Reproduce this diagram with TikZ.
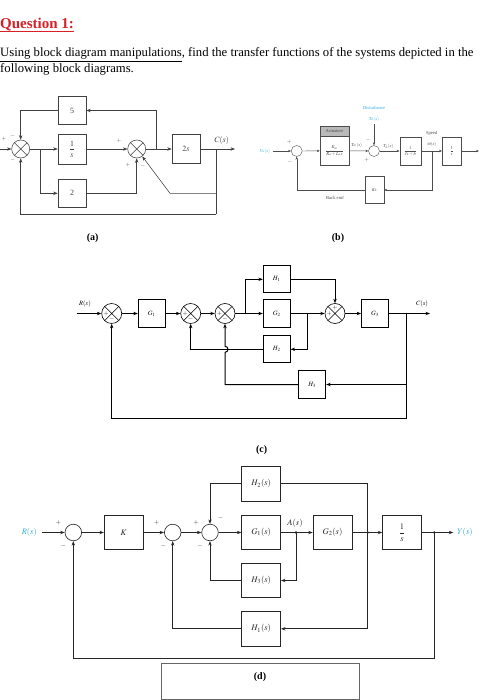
\documentclass[tikz,border=0pt]{standalone}
\usepackage{mathptmx}
\usepackage{fontspec}
\setmainfont{Liberation Serif}
\usepackage{tikz}
\usetikzlibrary{arrows.meta}
\definecolor{qred}{RGB}{214,32,38}
\definecolor{sigcyan}{RGB}{45,170,215}

\begin{document}
\begin{tikzpicture}[x=1pt, y=-1pt,
        blk/.style={draw, inner sep=0pt, minimum width=28pt, minimum height=28pt},
        sumx/.style={draw, circle, inner sep=0pt, minimum size=18pt,
            path picture={\draw (path picture bounding box.north west) -- (path picture bounding box.south east)
                (path picture bounding box.north east) -- (path picture bounding box.south west);}},
        sumo/.style={draw, circle, inner sep=0pt, minimum size=11pt},
        sig/.style={-{Stealth[length=4.5pt,width=3.4pt]}},
        sgn/.style={inner sep=0pt, font=\fontsize{6}{6}\selectfont},
        lbl/.style={inner sep=0pt, font=\bfseries\fontsize{10}{12}\selectfont}]
    \useasboundingbox (0,0) rectangle (481,700);

    % question text
    \node[anchor=base west, inner sep=0pt, text=qred, font=\bfseries\fontsize{15}{17}\selectfont] (title) at (0,29) {Question 1:};
    \draw[qred, line width=0.9pt] ([yshift=-2.2pt]title.base west) -- ([yshift=-2.2pt]title.base east);
    \node[anchor=base west, inner sep=0pt, font=\fontsize{12.7}{15}\selectfont] (task) at (0,57) {\underline{Using block diagram manipulations}, find the transfer functions of the systems depicted in the};
    \node[anchor=base west, inner sep=0pt, font=\fontsize{12.7}{15}\selectfont] (task2) at (0,73) {following block diagrams.};

    % (a)
    \begin{scope}[color=black!75, line width=0.55pt, every node/.append style={font=\fontsize{8}{9}\selectfont}]
        \node[sumx] (as1) at (20.7,149) {};
        \node[blk] (a5) at (72,110.5) {5};
        \node[blk, minimum height=30pt] (ainv) at (72,149) {$\displaystyle\frac{1}{s}$};
        \node[blk] (a2) at (72,193.3) {2};
        \node[sumx] (as2) at (136.7,149) {};
        \node[blk, minimum height=29pt] (a2s) at (186,149) {$2s$};
        \coordinate (ain) at (0,149);
        \coordinate (aout) at (235,149);
        \draw[sig] (ain) -- (as1);
        \draw[sig] (as1) -- (ainv);
        \draw[sig] (ainv) -- (as2);
        \draw[sig] (as2) -- (a2s);
        \draw[sig] (a2s) -- (aout);
        \draw[sig] (156.7,149) |- (a5);
        \draw[sig] (a5) -| (as1);
        \draw[sig] (40.7,149) |- (a2);
        \draw[sig] (a2) -| (as2);
        \draw (216,149) -- (216,214);
        \draw[sig] (216,193.3) -- (170,193.3) -- (as2);
        \draw[sig] (216,214) -| (as1);
        \foreach \x/\y/\s [count=\i] in {4/139.5/+, 12.7/135.7/-, 12.7/160/-, 119/140.7/+, 128/165/+, 143/166/-}
            \node[sgn] (asg\i) at (\x,\y) {$\s$};
        \node (aC) at (221.7,140.7) {$C(s)$};
    \end{scope}
    \node[lbl] (alb) at (92.7,238) {(a)};

    % (b)
    \begin{scope}[color=black!70, line width=0.4pt, sig/.append style={-{Stealth[length=3pt,width=2.4pt]}},
            every node/.append style={font=\fontsize{4.6}{5}\selectfont}]
        \node[sumo] (bs1) at (296.7,151) {};
        \node[blk, minimum width=29pt, minimum height=28.3pt] (barm) at (334.5,150.8) {$\displaystyle\frac{K_m}{R_a+L_a s}$};
        \node[blk, minimum width=29pt, minimum height=10pt, fill=gray!55, anchor=south] (barmh) at (barm.north) {Armature};
        \node[sumo] (bs2) at (374,151) {};
        \node[blk, minimum width=21pt, minimum height=28.3pt] (bjb) at (410.3,151) {$\displaystyle\frac{1}{Js+b}$};
        \node[blk, minimum width=19pt, minimum height=28.3pt] (bint) at (451.7,151) {$\displaystyle\frac{1}{s}$};
        \node[blk, minimum width=19pt, minimum height=26.7pt] (bkb) at (374.5,190) {$K_b$};
        \coordinate (bin) at (273,151);
        \coordinate (bout) at (479,151);
        \coordinate (bd) at (374,124.3);
        \coordinate (bw) at (431.7,151);
        \draw[sig] (bin) -- (bs1);
        \draw[sig] (bs1) -- (barm);
        \draw[sig] (barm) -- (bs2);
        \draw[sig] (bs2) -- (bjb);
        \draw[sig] (bjb) -- (bint);
        \draw[sig] (bint) -- (bout);
        \draw[sig] (bd) -- (bs2);
        \draw[sig] (bw) |- (bkb);
        \draw[sig] (bkb) -| (bs1);
        \node[text=sigcyan] (bVa) at (265,151) {$V_a(s)$};
        \node[text=sigcyan] (bdist) at (374,108.3) {Disturbance};
        \node[text=sigcyan] (bTd) at (374,119) {$T_d(s)$};
        \node (bTm) at (356.7,145) {$T_m(s)$};
        \node (bTL) at (388.3,146.7) {$T_L(s)$};
        \node (bspeed) at (431.7,133.3) {Speed};
        \node (bomega) at (431.7,144.3) {$\omega(s)$};
        \node (bemf) at (335,197.7) {Back emf};
        \foreach \x/\y/\s [count=\i] in {289.3/141.7/+, 290/161.7/-, 368.3/140/-, 366.7/160/+}
            \node[sgn] (bsg\i) at (\x,\y) {$\s$};
    \end{scope}
    \node[lbl] (blb) at (338,238) {(b)};

    % (c)
    \begin{scope}[color=black, line width=1pt, blk/.append style={minimum width=26.7pt, minimum height=27.3pt},
            every node/.append style={font=\fontsize{6.5}{7}\selectfont}]
        \node[sumx, minimum size=20pt, line width=0.6pt] (cs1) at (111.7,313.5) {};
        \node[blk] (cg1) at (151.7,313.5) {$G_1$};
        \node[sumx, minimum size=20pt, line width=0.6pt] (cs2) at (190.7,313.5) {};
        \node[sumx, minimum size=20pt, line width=0.6pt] (cs3) at (225,313.5) {};
        \node[blk, minimum height=26.7pt] (ch1) at (276.7,279.3) {$H_1$};
        \node[blk] (cg2) at (276.7,313.5) {$G_2$};
        \node[blk, minimum height=26.7pt] (ch2) at (276.7,349.3) {$H_2$};
        \node[sumx, minimum size=20pt, line width=0.6pt] (cs4) at (335,313.5) {};
        \node[blk] (cg3) at (375,313.5) {$G_3$};
        \node[blk, minimum width=27.3pt, minimum height=27.7pt] (ch3) at (312,384.5) {$H_3$};
        \coordinate (cin) at (76.7,313.5);
        \coordinate (cout) at (430,313.5);
        \coordinate (cb1) at (245,313.5);
        \coordinate (cb2) at (307.3,313.5);
        \coordinate (cb3) at (406.7,313.5);
        \draw[sig] (cin) -- (cs1);
        \draw[sig] (cs1) -- (cg1);
        \draw[sig] (cg1) -- (cs2);
        \draw[sig] (cs2) -- (cs3);
        \draw[sig] (cs3) -- (cg2);
        \draw[sig] (cb1) |- (ch1);
        \draw[sig] (ch1) -| (cs4);
        \draw[sig] (cg2) -- (cs4);
        \draw[sig] (cb2) |- (ch2);
        \draw[sig] (ch2) -| (cs2);
        \draw[sig] (cs4) -- (cg3);
        \draw[sig] (cg3) -- (cout);
        \draw[sig] (cb3) |- (ch3);
        \draw[sig] (cb3) -- (406.7,418.3) -| (cs1);
        \draw[sig] (ch3) -| (225,352.3) arc[start angle=-90, end angle=90, radius=3pt] -- (cs3);
        \foreach \s in {cs1,cs2,cs3} {
            \node[sgn, font=\bfseries\fontsize{6.5}{6.5}\selectfont] (\s p) at ([xshift=-5.5pt]\s.center) {$+$};
            \node[sgn, font=\bfseries\fontsize{6.5}{6.5}\selectfont] (\s m) at ([yshift=-5.5pt]\s.center) {$-$};
        }
        \node[sgn, font=\fontsize{6.5}{6.5}\selectfont] (cp1) at ([xshift=-5.5pt]cs4.center) {$+$};
        \node[sgn, font=\fontsize{6.5}{6.5}\selectfont] (cp2) at ([yshift=5.5pt]cs4.center) {$+$};
        \node (cR) at (85,304) {$R(s)$};
        \node (cC) at (422,304) {$C(s)$};
    \end{scope}
    \node[lbl] (clb) at (261.7,450) {(c)};

    % (d)
    \begin{scope}[color=black!85, line width=1pt, blk/.append style={minimum width=39pt, minimum height=34.5pt, line width=0.6pt},
            sumo/.append style={minimum size=16.6pt, line width=0.6pt},
            every node/.append style={font=\fontsize{8.5}{9}\selectfont}]
        \node[sumo] (ds1) at (73.3,532.5) {};
        \node[blk] (dk) at (123.7,532.5) {$K$};
        \node[sumo] (ds2) at (172.7,532.5) {};
        \node[sumo] (ds3) at (210,532.5) {};
        \node[blk] (dg1) at (261.2,532.5) {$G_1(s)$};
        \node[blk] (dg2) at (332.5,532.5) {$G_2(s)$};
        \node[blk] (dinv) at (402,532.5) {$\displaystyle\frac{1}{s}$};
        \node[blk] (dh2) at (261.2,483.8) {$H_2(s)$};
        \node[blk] (dh3) at (261.2,580.5) {$H_3(s)$};
        \node[blk] (dh1) at (261.2,628.8) {$H_1(s)$};
        \coordinate (din) at (41.7,532.5);
        \coordinate (dout) at (453.3,532.5);
        \coordinate (da) at (296,532.5);
        \coordinate (db) at (367.7,532.5);
        \coordinate (dc) at (434.3,532.5);
        \draw[sig] (din) -- (ds1);
        \draw[sig] (ds1) -- (dk);
        \draw[sig] (dk) -- (ds2);
        \draw[sig] (ds2) -- (ds3);
        \draw[sig] (ds3) -- (dg1);
        \draw[sig] (dg1) -- (dg2);
        \draw[sig] (dg2) -- (dinv);
        \draw[sig] (dinv) -- (dout);
        \draw (db) |- (dh2);
        \draw[sig] (dh2) -| (ds3);
        \draw[sig] (da) |- (dh3);
        \draw[sig] (dh3) -| (ds3);
        \draw[sig] (db) |- (dh1);
        \draw[sig] (dh1) -| (ds2);
        \draw[sig] (dc) -- (434.3,658.3) -| (ds1);
        \foreach \p in {da,db,dc}
            \fill (\p) circle[radius=1.4pt];
        \node[text=sigcyan] (dR) at (29.3,532.5) {$R(s)$};
        \node[text=sigcyan] (dY) at (465,532.5) {$Y(s)$};
        \node (dA) at (295,523.3) {$A(s)$};
        \foreach \x/\y/\s [count=\i] in {58.3/522.7/+, 63.3/546/-, 156.7/522.7/+, 163.3/546/-, 196/522.7/+, 200/546/-, 220.7/517.3/-}
            \node[sgn, font=\fontsize{7}{7}\selectfont] (dsg\i) at (\x,\y) {$\s$};
    \end{scope}
    \draw[black!60, line width=0.6pt] (161.7,663.3) rectangle (359.3,699.2);
    \node[lbl] (dlb) at (260,676.7) {(d)};
\end{tikzpicture}
\end{document}
